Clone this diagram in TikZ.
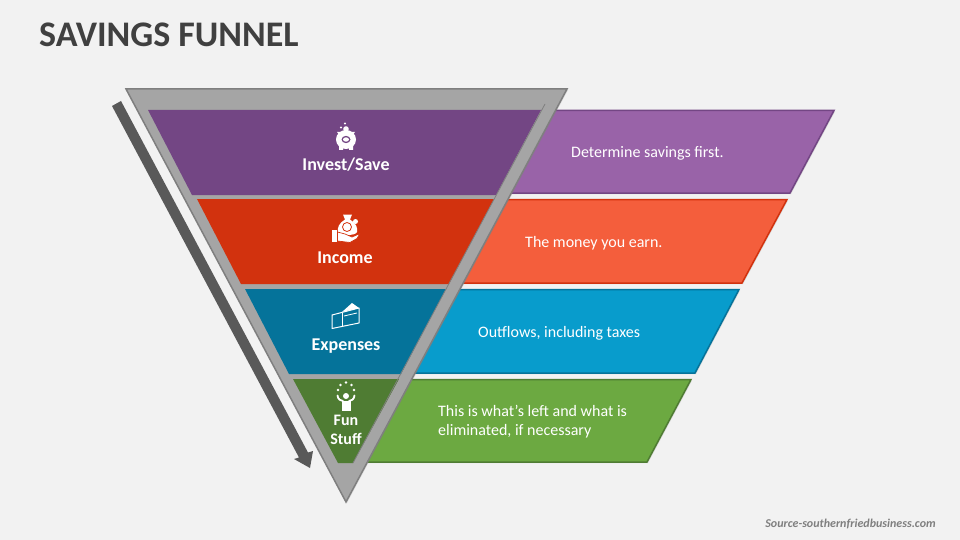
\documentclass[tikz,border=0pt]{standalone}
\usepackage{fontspec}
\setmainfont{Carlito}
\usetikzlibrary{shadows}
\definecolor{pagebg}{HTML}{F2F2F2}
\definecolor{titlegray}{HTML}{404040}
\definecolor{funnelgray}{HTML}{A5A5A5}
\definecolor{funneledge}{HTML}{7F7F7F}
\definecolor{arrowgray}{HTML}{595959}
\definecolor{purpledark}{HTML}{734684}
\definecolor{purplelight}{HTML}{9963A8}
\definecolor{reddark}{HTML}{D2320E}
\definecolor{redlight}{HTML}{F45E3C}
\definecolor{bluedark}{HTML}{05739A}
\definecolor{bluelight}{HTML}{089CCC}
\definecolor{greendark}{HTML}{4F7C33}
\definecolor{greenlight}{HTML}{6CA941}
\tikzset{
        x=1pt, y=-1pt,
        band/.style={line width=1.5pt, drop shadow={opacity=0.25, shadow xshift=1pt, shadow yshift=-1pt}},
        stage/.style={text=white, font=\bfseries\fontsize{18}{22}\selectfont, align=center},
        note/.style={text=white, inner sep=0pt, anchor=west, font=\fontsize{16}{19}\selectfont, align=left},
        icon/.style={fill=white, draw=none}
          }
\begin{document}
\begin{tikzpicture}
        \path[fill=pagebg, use as bounding box] (0,0) rectangle (960,540);
        \node[anchor=west, inner sep=0pt, text=titlegray, font=\bfseries\fontsize{36}{42}\selectfont] (title) at (39,35) {SAVINGS FUNNEL};
        \node[anchor=east, inner sep=0pt, text=funneledge, font=\bfseries\itshape\fontsize{12}{14}\selectfont] (source) at (936,524) {Source-southernfriedbusiness.com};
        % right hand bands
        \draw[band, draw=purpledark, fill=purplelight] (500,110.5) -- (834,110.5) -- (790,193) -- (460,193) -- cycle;
        \draw[band, draw=reddark, fill=redlight] (450,199.5) -- (787,199.5) -- (742,283) -- (420,283) -- cycle;
        \draw[band, draw=bluedark, fill=bluelight] (410,289.5) -- (739,289.5) -- (695,373) -- (390,373) -- cycle;
        \draw[band, draw=greendark, fill=greenlight] (390,379.5) -- (691,379.5) -- (647,462) -- (350,462) -- cycle;
        % funnel
        \draw[fill=funnelgray, draw=funneledge, line width=1.5pt, line join=miter, drop shadow={opacity=0.2, shadow xshift=1pt, shadow yshift=-1pt}] (126,89) -- (567,89) -- (346,502) -- cycle;
        \path[fill=purpledark] (148,110) -- (541,110) -- (496,195) -- (192,195) -- cycle;
        \path[fill=reddark] (197,199) -- (494,199) -- (449,284) -- (241,284) -- cycle;
        \path[fill=bluedark] (245,289) -- (446,289) -- (401,374) -- (289,374) -- cycle;
        \path[fill=greendark] (293,379) -- (399,379) -- (353,463) -- (338,463) -- cycle;
        \draw[funneledge, line width=0.8pt] (545,104) -- (353,463);
        % arrow
        \path[fill=arrowgray] (112,106) -- (121,101) -- (308,452.5) -- (313,451) -- (310,468) -- (294,459) -- (299,457.5) -- cycle;
        % labels
        \node[stage] (invest) at (346,165) {Invest/Save};
        \node[stage] (income) at (345,258) {Income};
        \node[stage] (expenses) at (346,346) {Expenses};
        \node[stage, font=\bfseries\fontsize{16}{18.5}\selectfont] (fun) at (346,430) {Fun\\Stuff};
        \node[note] (n1) at (571,153.5) {Determine savings first.};
        \node[note] (n2) at (525,243.5) {The money you earn.};
        \node[note] (n3) at (478,333.5) {Outflows, including taxes};
        \node[note] (n4) at (438,422) {This is what’s left and what is\\eliminated, if necessary};
        % piggy icon
        \fill[icon] (346,139.5) ellipse (10 and 9.5);
        \fill[icon] (339,146) rectangle (343,150) (349,146) rectangle (353,150);
        \fill[icon] (337,132) -- (355,132) -- (352,136) -- (340,136) -- cycle;
        \fill[icon] (346,129) circle (2.8) (341,127.5) circle (1.2) (345,123.5) circle (1.2);
        \fill[purpledark] (346,139.5) ellipse (4.5 and 3.6);
        \fill[icon] (346,139.5) ellipse (3 and 2.2);
        % money bag icon
        \fill[icon] (343,214.5) -- (352,214.5) -- (350,219.5) .. controls (356,223) and (358,228) .. (357,232) .. controls (356,236) and (339,236) .. (338,232) .. controls (337,228) and (339,223) .. (345,219.5) -- cycle;
        \fill[icon] (355.5,221.5) circle (2.5);
        \draw[reddark, line width=0.8pt] (347,227) circle (4.5);
        \fill[icon] (332,230) rectangle (337,242);
        \draw[icon, draw=reddark, line width=0.7pt] (337.5,232) -- (345,234) -- (352,237) -- (360,233.5) -- (357,238.5) -- (350,242.5) -- (337.5,241) -- cycle;
        % wallet icon
        \draw[white, line width=1pt, line join=round] (332,315) -- (359,308) -- (359,323) -- (332,328.5) -- cycle;
        \draw[white, line width=0.8pt] (342,313) -- (342,325.5);
        \draw[white, line width=0.8pt] (344,316) -- (357,313);
        \fill[icon] (342,312) -- (352,303) -- (359,308) -- cycle;
        % juggler icon
        \fill[icon] (346,396) circle (3);
        \fill[icon] (341.5,400.5) -- (350.5,400.5) -- (350.5,411) -- (341.5,411) -- cycle;
        \draw[white, line width=1.8pt, line cap=round] (337.5,395.5) .. controls (338,400) and (341,400.5) .. (343,401);
        \draw[white, line width=1.8pt, line cap=round] (354.5,395.5) .. controls (354,400) and (351,400.5) .. (349,401);
        \foreach \bx/\by in {338/390, 340.5/385, 346/382.5, 351.5/385, 354/390}
          \fill[icon] (\bx,\by) circle (1.4);
      \end{tikzpicture}
\end{document}
